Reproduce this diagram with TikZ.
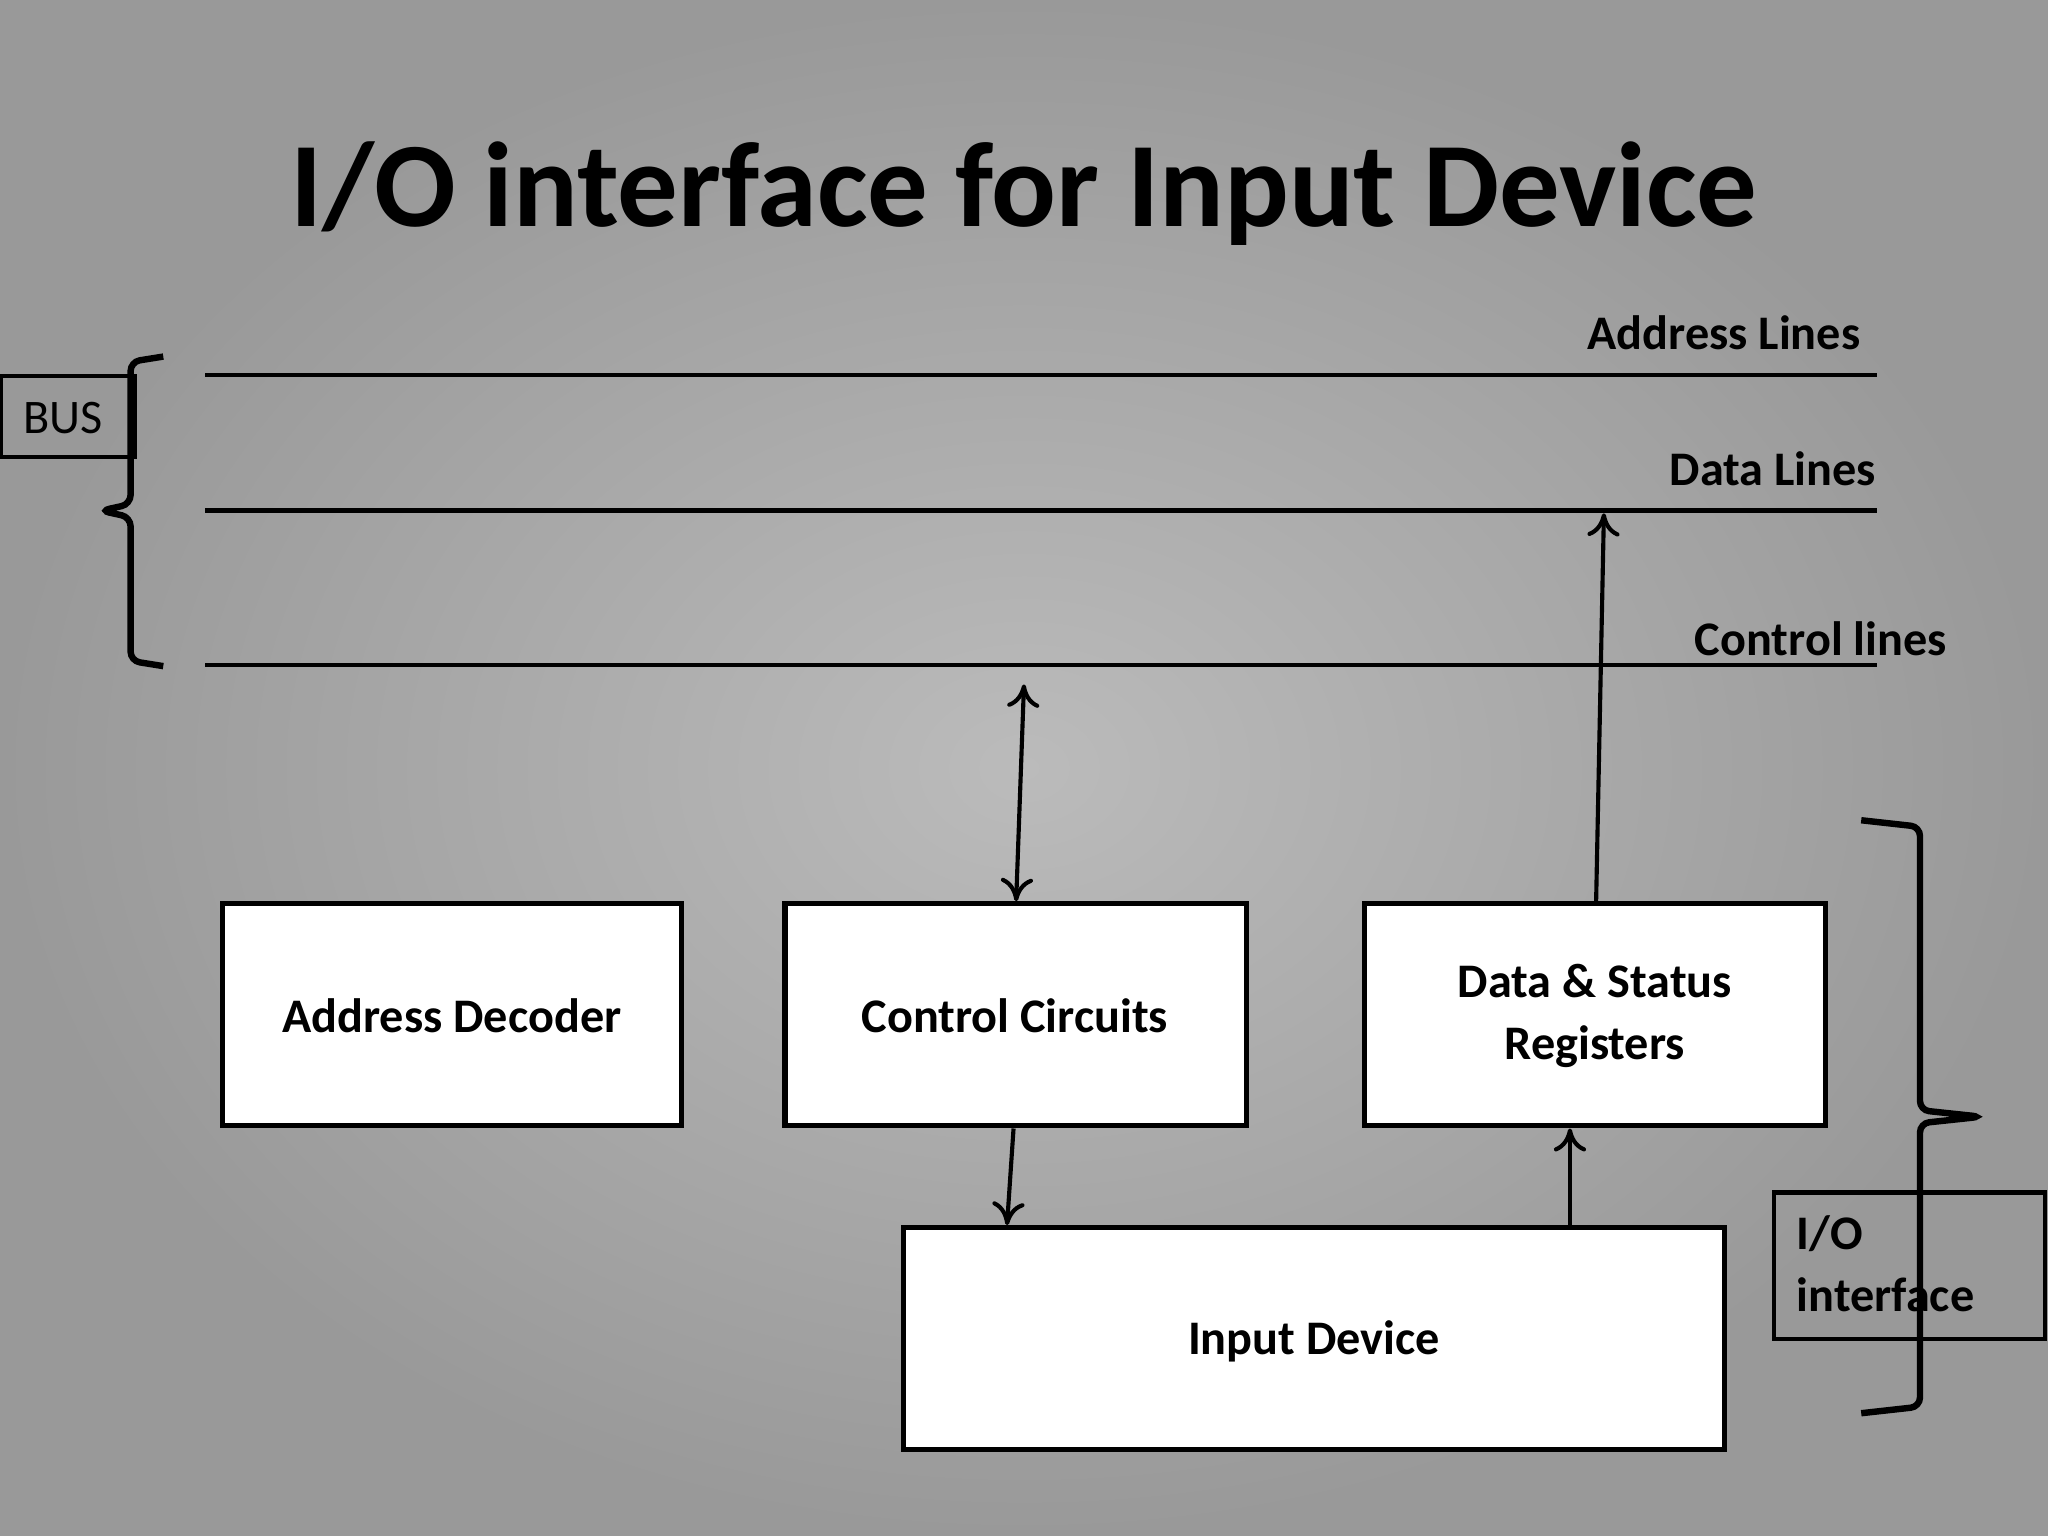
\documentclass[tikz,border=0pt]{standalone}
\usepackage{fontspec}
\setmainfont{Carlito}
\usetikzlibrary{arrows.meta}
\definecolor{bgin}{HTML}{BBBBBB}
\definecolor{bgout}{HTML}{999999}
\begin{document}
\begin{tikzpicture}[x=0.01cm,y=-0.01cm,
  bus/.style={line width=1pt},
  lbl/.style={font=\bfseries\fontsize{10.5}{13}\selectfont,inner sep=0pt},
  boxr/.style={line width=1.1pt,fill=white},
  arr/.style={line width=0.9pt,-{To[length=5pt,width=7pt,line width=0.9pt]}},
  brace/.style={line width=1.4pt,rounded corners=2pt}]
\useasboundingbox (0,0) rectangle (1568,1176);
\shade[inner color=bgin, outer color=bgout] (0,0) rectangle (1568,1176);
\node[font=\bfseries\fontsize{26.3}{30}\selectfont] (title) at (784,148) {I/O interface for Input Device};
% bus lines
\coordinate (a1) at (157,287); \coordinate (a2) at (1437,287);
\coordinate (d1) at (157,391); \coordinate (d2) at (1437,391);
\coordinate (c1) at (157,509); \coordinate (c2) at (1437,509);
\draw[bus] (a1) -- (a2); \draw[bus] (d1) -- (d2); \draw[bus] (c1) -- (c2);
\node[lbl,anchor=east] (al) at (1425,255) {Address Lines};
\node[lbl,anchor=east] (dl) at (1437,359) {Data Lines};
\node[lbl,anchor=west] (cl) at (1297,489) {Control lines};
% BUS
\draw[line width=0.9pt] (1,288) rectangle (103,350);
\node[inner sep=0pt,font=\fontsize{10.5}{13}\selectfont] (busl) at (48,320) {BUS};
\draw[brace] (125,273) -- (100,277) -- (100,386) -- (77,391) -- (100,396) -- (100,506) -- (125,510);
% boxes
\draw[boxr] (170,692) rectangle (522,862);
\node[lbl] (adt) at (346,778) {Address Decoder};
\draw[boxr] (601,692) rectangle (954,862);
\node[lbl] (cct) at (777,778) {Control Circuits};
\draw[boxr] (1045,692) rectangle (1398,862);
\node[lbl,align=center,font=\bfseries\fontsize{10.5}{13.5}\selectfont] (dst) at (1221,778) {Data \& Status\\Registers};
\draw[boxr] (692,940) rectangle (1320,1110);
\node[lbl] (idt) at (1006,1027) {Input Device};
% arrows
\coordinate (p1) at (784,524); \coordinate (p2) at (778,690);
\draw[arr,{To[length=5pt,width=7pt,line width=0.9pt]}-{To[length=5pt,width=7pt,line width=0.9pt]}] (p1) -- (p2);
\coordinate (q1) at (1222,692); \coordinate (q2) at (1228,393);
\draw[arr] (q1) -- (q2);
\coordinate (r1) at (776,864); \coordinate (r2) at (771,938);
\draw[arr] (r1) -- (r2);
\coordinate (s1) at (1202,940); \coordinate (s2) at (1202,864);
\draw[arr] (s1) -- (s2);
% I/O interface
\draw[line width=0.9pt] (1358,913) rectangle (1566,1025);
\draw[brace] (1425,628) -- (1470,633) -- (1470,850) -- (1517,855) -- (1470,860) -- (1470,1077) -- (1425,1082);
\node[lbl,anchor=north west,align=left,font=\bfseries\fontsize{10.5}{13.5}\selectfont] (io) at (1375,930) {I/O\\interface};
\end{tikzpicture}
\end{document}
